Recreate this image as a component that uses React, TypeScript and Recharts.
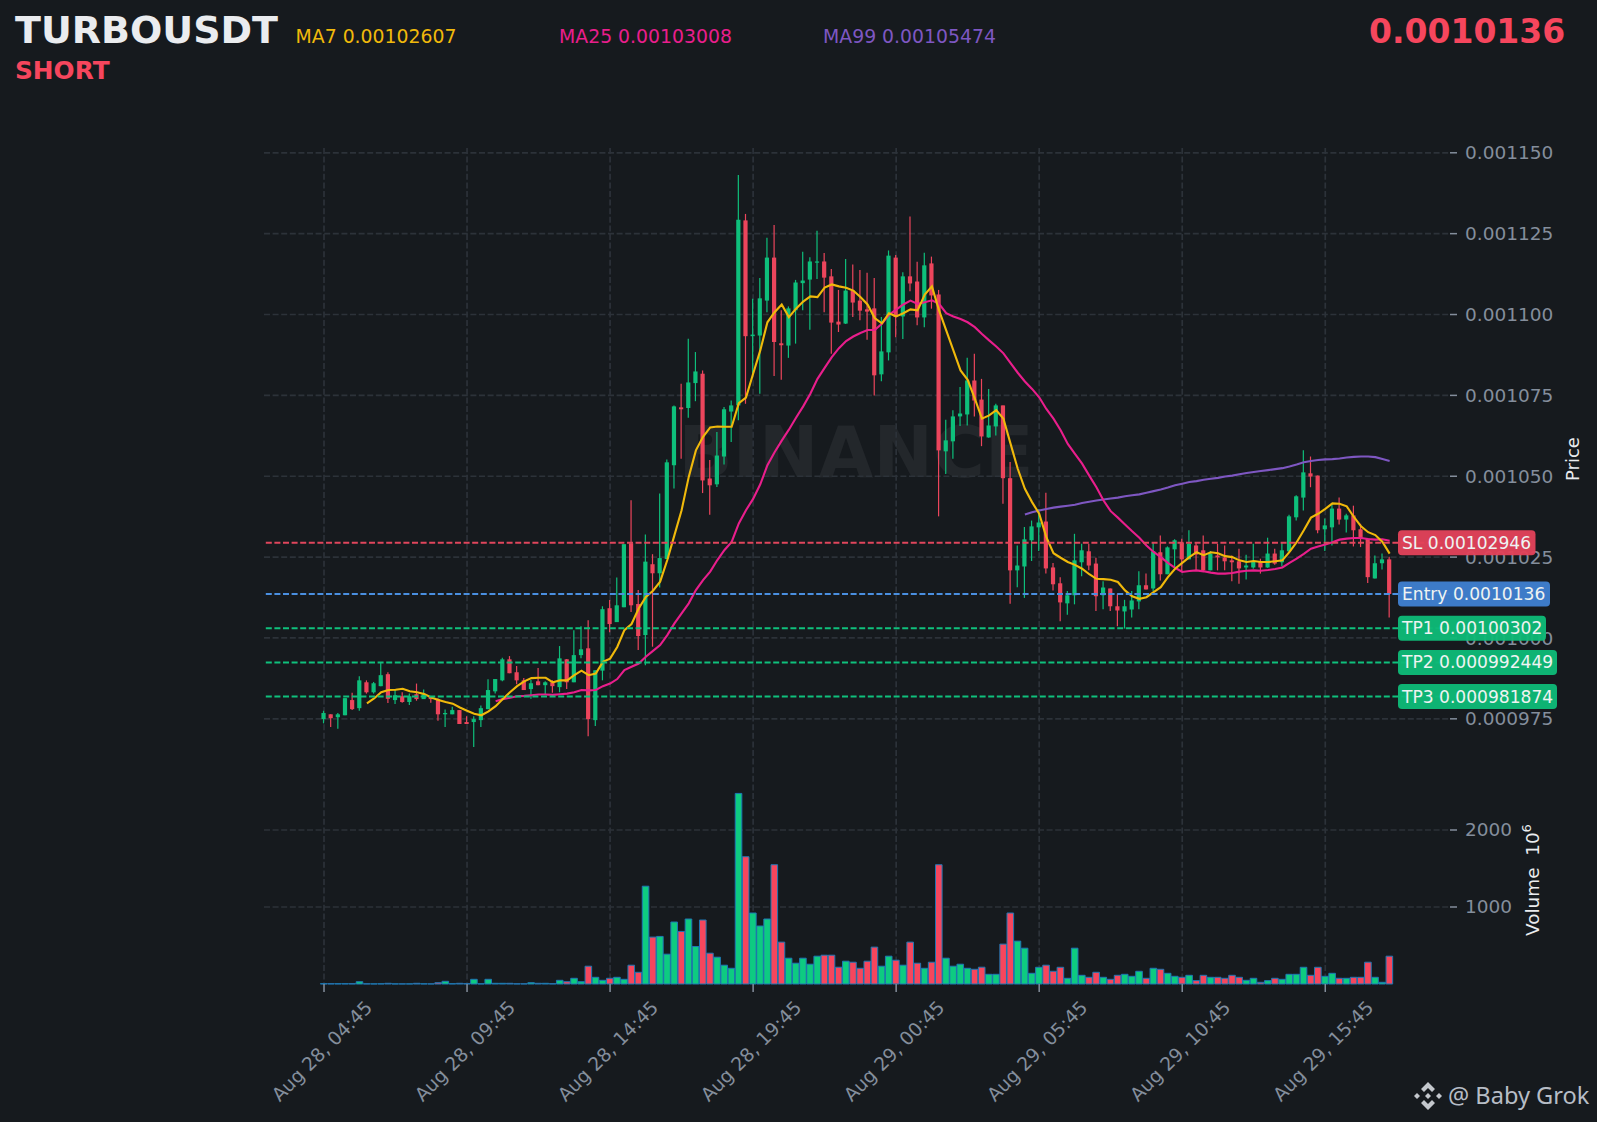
import {
  Bar,
  CartesianGrid,
  Cell,
  ComposedChart,
  Line,
  ReferenceLine,
  XAxis,
  YAxis,
} from "recharts";

// prices are kept in units of 1e-6 USDT, volume in units of 1e6
const opens = [
  974.9, 976.4, 975.5, 976.1, 980.8, 978.3, 986.3, 983.2, 985.1, 988.8,
  980.8, 982.0, 980.2, 982.6, 981.1, 982.0, 981.1, 976.4, 976.4, 977.7,
  974.0, 974.0, 974.6, 978.0, 983.5, 986.9, 993.4, 989.4, 986.9, 984.2,
  986.6, 985.4, 986.3, 984.8, 993.4, 986.3, 994.7, 996.8, 974.6, 989.9,
  1009.2, 1004.9, 1009.5, 1029.3, 1010.5, 1000.9, 1022.8, 1020.0, 1024.4, 1053.4,
  1071.3, 1071.1, 1078.8, 1081.7, 1049.3, 1047.5, 1056.1, 1070.0, 1071.9, 1129.1,
  1093.3, 1093.5, 1104.3, 1117.6, 1091.1, 1090.4, 1101.3, 1109.7, 1110.8, 1116.2,
  1116.4, 1111.8, 1097.8, 1097.2, 1107.4, 1104.3, 1101.6, 1101.9, 1081.5, 1088.3,
  1117.6, 1099.4, 1111.8, 1110.2, 1099.1, 1115.8, 1106.2, 1057.7, 1060.8, 1068.5,
  1069.1, 1079.6, 1073.7, 1062.0, 1065.4, 1071.9, 1049.4, 1020.9, 1022.1, 1030.2,
  1034.2, 1036.0, 1021.8, 1016.9, 1010.7, 1013.2, 1023.4, 1026.8, 1023.0, 1013.2,
  1015.3, 1009.8, 1008.2, 1008.8, 1011.3, 1016.3, 1015.3, 1026.5, 1019.7, 1027.4,
  1029.5, 1024.3, 1028.6, 1027.1, 1020.9, 1025.5, 1024.9, 1024.0, 1023.7, 1021.8,
  1021.8, 1023.7, 1021.8, 1026.1, 1023.4, 1026.8, 1037.3, 1043.4, 1050.9, 1050.2,
  1033.6, 1034.2, 1040.0, 1036.6, 1037.9, 1033.6, 1030.7, 1018.4, 1023.1, 1024.3,
];
const highs = [
  977.5, 976.4, 976.8, 981.4, 983.1, 988.2, 986.9, 986.4, 992.5, 989.4,
  983.9, 983.2, 982.8, 985.9, 984.1, 982.0, 981.4, 977.9, 978.7, 977.7,
  975.8, 975.8, 979.1, 987.2, 987.3, 993.9, 994.4, 991.3, 987.6, 987.0,
  990.7, 986.6, 986.9, 997.5, 993.5, 1002.4, 1003.6, 1005.5, 990.0, 1009.8,
  1011.7, 1018.7, 1029.0, 1042.6, 1014.8, 1032.0, 1025.9, 1044.7, 1055.2, 1071.9,
  1078.6, 1092.5, 1088.4, 1082.7, 1055.0, 1063.7, 1071.4, 1073.4, 1143.1, 1131.1,
  1104.9, 1111.3, 1123.7, 1127.7, 1101.3, 1102.5, 1110.7, 1119.4, 1117.7, 1125.9,
  1119.0, 1114.1, 1107.6, 1117.2, 1115.5, 1113.8, 1112.9, 1111.3, 1099.2, 1119.8,
  1118.4, 1113.1, 1130.3, 1116.3, 1119.1, 1117.9, 1107.6, 1067.5, 1070.4, 1077.6,
  1086.6, 1087.9, 1080.1, 1077.0, 1072.4, 1071.9, 1054.4, 1028.6, 1034.3, 1036.3,
  1039.9, 1044.9, 1023.2, 1018.8, 1014.5, 1032.2, 1029.1, 1029.1, 1024.8, 1017.5,
  1015.3, 1013.7, 1011.8, 1014.5, 1020.6, 1019.9, 1029.4, 1031.7, 1028.3, 1030.5,
  1030.7, 1033.3, 1029.4, 1031.7, 1026.9, 1029.1, 1028.6, 1025.5, 1027.6, 1025.7,
  1029.1, 1024.5, 1031.0, 1027.6, 1029.4, 1038.1, 1044.1, 1058.0, 1056.1, 1050.2,
  1036.9, 1041.7, 1043.4, 1038.4, 1040.9, 1035.3, 1030.7, 1025.5, 1026.1, 1025.1,
];
const lows = [
  973.6, 972.5, 971.9, 976.1, 977.7, 977.5, 982.8, 982.8, 985.1, 979.9,
  979.6, 980.0, 979.3, 980.6, 981.1, 980.0, 974.4, 972.5, 976.4, 973.4,
  973.4, 966.3, 972.5, 978.0, 982.8, 986.6, 989.1, 985.7, 983.9, 981.2,
  985.4, 982.6, 983.1, 983.2, 984.2, 986.3, 993.7, 969.6, 972.8, 986.9,
  1001.8, 1004.9, 1009.5, 1008.0, 996.3, 991.6, 997.3, 1015.6, 1024.4, 1046.2,
  1055.4, 1068.1, 1073.2, 1044.8, 1038.1, 1046.7, 1053.6, 1060.6, 1067.3, 1072.4,
  1081.7, 1075.5, 1100.7, 1081.0, 1079.8, 1086.6, 1091.0, 1101.3, 1095.3, 1111.0,
  1100.7, 1087.9, 1094.6, 1097.1, 1099.2, 1098.2, 1092.2, 1075.0, 1079.4, 1085.8,
  1093.0, 1092.4, 1107.2, 1096.7, 1096.1, 1101.8, 1037.6, 1050.7, 1055.4, 1065.5,
  1065.7, 1068.5, 1059.3, 1061.9, 1062.6, 1041.5, 1010.6, 1015.7, 1012.4, 1023.8,
  1026.9, 1019.9, 1014.7, 1005.2, 1007.2, 1010.4, 1019.1, 1020.9, 1008.3, 1008.9,
  1008.3, 1003.6, 1002.9, 1006.3, 1008.9, 1015.0, 1014.5, 1017.8, 1019.7, 1021.4,
  1020.4, 1024.3, 1020.9, 1020.4, 1020.9, 1020.9, 1020.9, 1017.5, 1016.8, 1018.1,
  1021.4, 1019.9, 1021.7, 1022.6, 1022.1, 1026.6, 1036.3, 1039.4, 1046.6, 1032.4,
  1026.9, 1028.6, 1035.1, 1032.6, 1028.3, 1028.1, 1017.0, 1018.4, 1021.2, 1006.3,
];
const closes = [
  976.8, 975.2, 976.4, 981.4, 978.0, 986.9, 983.2, 986.0, 988.5, 981.2,
  982.3, 980.2, 982.0, 981.1, 982.6, 981.1, 976.4, 976.8, 977.7, 973.4,
  973.4, 974.9, 978.3, 983.9, 987.3, 993.4, 989.1, 986.9, 983.9, 986.0,
  985.4, 986.3, 985.1, 993.7, 986.3, 994.7, 996.5, 974.9, 990.0, 1008.9,
  1004.3, 1010.1, 1029.0, 1010.1, 1000.6, 1023.6, 1020.0, 1024.7, 1054.3, 1071.6,
  1070.7, 1079.0, 1082.4, 1048.7, 1047.2, 1056.4, 1070.7, 1071.9, 1129.3, 1093.3,
  1093.8, 1105.0, 1117.6, 1091.5, 1090.5, 1101.9, 1109.9, 1110.5, 1116.4, 1116.4,
  1111.4, 1097.5, 1096.9, 1107.4, 1103.7, 1101.2, 1100.9, 1081.2, 1088.6, 1118.2,
  1099.2, 1111.8, 1109.6, 1099.1, 1115.2, 1105.9, 1058.0, 1061.1, 1068.5, 1069.4,
  1079.6, 1073.4, 1062.3, 1065.7, 1071.9, 1049.4, 1020.9, 1022.4, 1030.5, 1034.5,
  1035.7, 1021.5, 1016.6, 1011.0, 1013.2, 1024.0, 1027.1, 1022.4, 1012.9, 1015.6,
  1009.8, 1008.5, 1009.8, 1011.6, 1016.3, 1015.0, 1026.8, 1019.7, 1028.0, 1030.2,
  1024.3, 1029.1, 1025.8, 1020.9, 1026.1, 1024.9, 1023.7, 1023.4, 1021.5, 1022.4,
  1023.7, 1021.8, 1026.1, 1023.0, 1027.1, 1037.6, 1043.8, 1051.2, 1049.9, 1033.3,
  1034.8, 1040.0, 1036.6, 1037.9, 1033.3, 1030.7, 1018.8, 1023.1, 1024.3, 1013.6,
];
const volumes = [
  4, 4, 4, 4, 4, 30, 3, 2, 3, 9,
  2, 2, 2, 9, 3, 2, 17, 35, 4, 9,
  4, 61, 3, 61, 9, 9, 9, 3, 3, 17,
  9, 9, 4, 48, 30, 74, 30, 231, 87, 48,
  74, 87, 61, 244, 152, 1270, 609, 618, 387, 805,
  683, 844, 487, 831, 400, 348, 244, 204, 2475, 1653,
  922, 753, 844, 1549, 544, 335, 270, 335, 257, 361,
  374, 374, 218, 296, 283, 204, 296, 479, 231, 361,
  309, 244, 544, 270, 204, 283, 1549, 335, 231, 257,
  204, 191, 218, 126, 126, 518, 922, 557, 465, 139,
  217, 244, 165, 217, 74, 465, 113, 87, 152, 87,
  61, 113, 126, 100, 165, 74, 204, 191, 139, 100,
  87, 113, 44, 113, 87, 87, 74, 113, 87, 48,
  74, 22, 44, 74, 61, 126, 126, 217, 113, 217,
  100, 139, 74, 74, 87, 87, 283, 87, 22, 361,
];

// moving averages start at candle 6, 24 and 98
const ma7Values = [
  979.8, 981.3, 983.2, 983.9,
  984.0, 984.3, 983.5, 983.2, 982.7, 981.6, 980.8, 980.2, 979.7, 978.5,
  977.5, 976.6, 976.1, 977.3, 978.9, 981.1, 983.2, 985.1, 986.6, 987.6,
  987.7, 987.7, 986.3, 986.9, 986.9, 988.5, 989.9, 988.5, 989.0, 992.6,
  993.6, 997.2, 1002.4, 1004.3, 1009.1, 1012.7, 1014.6, 1017.4, 1024.1, 1031.8,
  1039.5, 1049.8, 1058.0, 1062.2, 1065.1, 1065.4, 1065.3, 1065.3, 1072.6, 1074.3,
  1081.7, 1088.9, 1097.6, 1100.7, 1103.1, 1099.2, 1101.8, 1104.0, 1105.6, 1105.4,
  1108.3, 1109.3, 1108.7, 1108.3, 1107.4, 1105.4, 1103.1, 1098.9, 1097.3, 1100.4,
  1099.4, 1100.4, 1101.6, 1101.3, 1106.2, 1108.7, 1101.3, 1095.1, 1088.9, 1082.7,
  1079.8, 1074.0, 1067.8, 1068.8, 1070.4, 1067.8, 1060.0, 1052.3, 1046.1, 1042.0,
  1038.4, 1031.2, 1026.2, 1024.8, 1023.5, 1022.6, 1021.4, 1019.7, 1018.3, 1018.2,
  1018.0, 1017.3, 1014.7, 1012.9, 1012.1, 1012.6, 1014.2, 1015.7, 1018.8, 1021.4,
  1023.2, 1025.0, 1026.5, 1025.6, 1026.5, 1026.2, 1025.3, 1025.0, 1024.0, 1023.5,
  1023.8, 1023.5, 1023.5, 1023.7, 1024.0, 1026.6, 1029.6, 1033.3, 1037.2, 1038.4,
  1039.9, 1041.6, 1041.5, 1040.7, 1037.4, 1034.5, 1032.7, 1031.8, 1029.7, 1026.07,
];
const ma25Values = [
  980.4, 981.1, 981.5, 982.0, 982.1, 982.3,
  982.5, 982.5, 982.4, 982.6, 982.8, 983.2, 983.9, 983.8, 983.9, 985.1,
  985.9, 987.3, 990.1, 991.1, 992.1, 994.2, 996.0, 997.8, 1000.9, 1004.5,
  1007.6, 1010.7, 1014.8, 1017.9, 1020.5, 1024.1, 1027.2, 1029.7, 1035.4, 1039.5,
  1043.0, 1047.5, 1053.4, 1057.4, 1061.0, 1064.4, 1068.1, 1071.6, 1075.5, 1080.1,
  1083.5, 1086.8, 1089.6, 1091.8, 1093.2, 1094.3, 1095.2, 1095.2, 1097.1, 1099.9,
  1101.5, 1103.1, 1104.3, 1103.3, 1103.8, 1104.4, 1103.3, 1100.4, 1099.4, 1098.6,
  1097.6, 1096.1, 1094.0, 1092.0, 1090.1, 1088.0, 1085.0, 1082.0, 1079.3, 1077.0,
  1074.4, 1070.8, 1067.8, 1064.2, 1060.0, 1056.9, 1053.9, 1050.2, 1046.6, 1042.5,
  1039.2, 1037.2, 1035.1, 1033.0, 1031.0, 1028.6, 1026.6, 1025.0, 1023.2, 1021.7,
  1020.4, 1020.7, 1020.9, 1020.6, 1020.2, 1019.9, 1019.9, 1020.1, 1020.5, 1020.8,
  1020.9, 1020.8, 1021.0, 1021.3, 1021.8, 1023.2, 1024.5, 1026.0, 1027.6, 1028.3,
  1028.9, 1029.6, 1030.4, 1030.7, 1030.9, 1030.9, 1030.6, 1030.4, 1030.5, 1030.08,
];
const ma99Values = [
  1038.2, 1038.9,
  1039.4, 1039.9, 1040.3, 1040.6, 1040.9, 1041.2, 1041.7, 1042.1, 1042.5, 1042.8,
  1043.1, 1043.4, 1043.8, 1044.1, 1044.4, 1044.9, 1045.4, 1045.9, 1046.5, 1047.2,
  1047.7, 1048.2, 1048.5, 1048.9, 1049.2, 1049.5, 1049.9, 1050.2, 1050.6, 1051.0,
  1051.3, 1051.6, 1051.9, 1052.2, 1052.5, 1053.0, 1053.6, 1054.3, 1054.7, 1055.0,
  1055.2, 1055.3, 1055.5, 1055.8, 1056.0, 1056.1, 1056.1, 1055.9, 1055.3, 1054.74,
];

const xTicks = [0, 20, 40, 60, 80, 100, 120, 140];
const xTickLabels = [
  "Aug 28, 04:45",
  "Aug 28, 09:45",
  "Aug 28, 14:45",
  "Aug 28, 19:45",
  "Aug 29, 00:45",
  "Aug 29, 05:45",
  "Aug 29, 10:45",
  "Aug 29, 15:45",
];
const priceTicks = [975, 1000, 1025, 1050, 1075, 1100, 1125, 1150];
const volumeTicks = [1000, 2000];

const levels = [
  { name: "SL", value: 1029.46, text: "SL 0.00102946", line: "#e0465c", fill: "#e2425a", w: 137.5 },
  { name: "Entry", value: 1013.6, text: "Entry 0.0010136", line: "#4a8fe0", fill: "#3f7fcf", w: 152 },
  { name: "TP1", value: 1003.02, text: "TP1 0.00100302", line: "#0fc07c", fill: "#0fb977", w: 148 },
  { name: "TP2", value: 992.449, text: "TP2 0.000992449", line: "#0fc07c", fill: "#0fb977", w: 159 },
  { name: "TP3", value: 981.874, text: "TP3 0.000981874", line: "#0fc07c", fill: "#0fb977", w: 159 },
];

const BG = "#161a1e";
const GRID = "#2c3239";
const TICK = "#848e9c";
const UP = "#0ebf7b";
const DOWN = "#ec455c";
const FONT = "'DejaVu Sans', sans-serif";
// the volume axis is stacked after the price axis, its ticks are pulled back to the plot edge
const VOLUME_AXIS_SHIFT = 146;

const rows = opens.map((open, i) => ({
  i,
  open,
  close: closes[i],
  range: [lows[i], highs[i]],
  volume: volumes[i],
  ma7: i >= 6 ? ma7Values[i - 6] : null,
  ma25: i >= 24 ? ma25Values[i - 24] : null,
  ma99: i >= 98 ? ma99Values[i - 98] : null,
}));

function Candle(props: any) {
  const { x, y, width, height, payload } = props;
  const [low, high] = payload.range;
  // pixels per price unit, taken from the bar the y scale gave us
  const k = height / (high - low);
  const top = y + (high - Math.max(payload.open, payload.close)) * k;
  const bottom = y + (high - Math.min(payload.open, payload.close)) * k;
  const color = payload.close >= payload.open ? UP : DOWN;
  const mid = x + width / 2;
  return (
    <g>
      <line x1={mid} x2={mid} y1={y} y2={y + height} stroke={color} strokeWidth={1.2} />
      <rect x={x} y={top} width={width} height={Math.max(bottom - top, 1.2)} fill={color} />
    </g>
  );
}

function DateTick(props: any) {
  const { x, y, payload } = props;
  const label = xTickLabels[xTicks.indexOf(payload.value)];
  const cx = x - 2;
  const cy = y + 57;
  return (
    <text
      x={cx}
      y={cy}
      fill={TICK}
      fontSize={18.8}
      fontFamily={FONT}
      textAnchor="middle"
      dominantBaseline="central"
      transform={`rotate(-45 ${cx} ${cy})`}
    >
      {label}
    </text>
  );
}

function VolumeTick(props: any) {
  const { x, y, payload } = props;
  const textX = x - VOLUME_AXIS_SHIFT;
  return (
    <g>
      <line x1={textX - 15} x2={textX - 8} y1={y} y2={y} stroke={TICK} strokeWidth={1.5} />
      <text
        x={textX}
        y={y}
        fill={TICK}
        fontSize={18.5}
        fontFamily={FONT}
        dominantBaseline="central"
      >
        {payload.value}
      </text>
    </g>
  );
}

function LevelLabel(props: any) {
  const { viewBox, level } = props;
  const left = viewBox.x + viewBox.width - 52;
  return (
    <g>
      <rect x={left} y={viewBox.y - 12.5} width={level.w} height={25} rx={4} fill={level.fill} fillOpacity={0.96} />
      <text
        x={left + 4}
        y={viewBox.y}
        fill="#eef3f2"
        fontSize={17.1}
        fontFamily={FONT}
        dominantBaseline="central"
      >
        {level.text}
      </text>
    </g>
  );
}

function Head({ x, y, size, color, bold, children }: any) {
  return (
    <div
      style={{
        position: "absolute",
        left: x,
        top: y - size,
        height: size * 2,
        lineHeight: `${size * 2}px`,
        fontSize: size,
        color,
        fontWeight: bold ? 700 : 400,
        whiteSpace: "nowrap",
      }}
    >
      {children}
    </div>
  );
}

function BinanceMark() {
  return (
    <svg
      width={28}
      height={28}
      viewBox="0 0 28 28"
      style={{ position: "absolute", left: 1414, top: 1082 }}
    >
      <g fill="#c4c8cd">
        <polygon points="14,0 21,7 18,10 14,6 10,10 7,7" />
        <polygon points="14,28 21,21 18,18 14,22 10,18 7,21" />
        <polygon points="14,11 17,14 14,17 11,14" />
        <polygon points="3,11 6,14 3,17 0,14" />
        <polygon points="25,11 28,14 25,17 22,14" />
      </g>
    </svg>
  );
}

export default function App() {
  return (
    <div
      style={{
        position: "relative",
        width: 1597,
        height: 1122,
        background: BG,
        overflow: "hidden",
        fontFamily: FONT,
      }}
    >
      <style>{`body{margin:0;background:${BG}}`}</style>

      <Head x={15} y={30} size={38} color="#eaecef" bold>TURBOUSDT</Head>
      <Head x={15} y={71} size={24.8} color="#f6465d" bold>SHORT</Head>
      <Head x={295.5} y={37} size={18.85} color="#f0b90b">MA7 0.00102607</Head>
      <Head x={559} y={37} size={18.85} color="#e91e8c">MA25 0.00103008</Head>
      <Head x={823} y={37} size={18.85} color="#7e57c2">MA99 0.00105474</Head>
      <Head x={1369} y={32} size={33} color="#f6465d" bold>0.0010136</Head>

      <div
        style={{
          position: "absolute",
          left: 856,
          top: 452,
          transform: "translate(-50%, -50%)",
          fontSize: 71,
          fontWeight: 700,
          color: "#23272b",
        }}
      >
        BINANCE
      </div>

      <div style={{ position: "absolute", left: 0, top: 0 }}>
        <ComposedChart
          width={1597}
          height={1122}
          data={rows}
          margin={{ top: 148, right: 0, bottom: 0, left: 264 }}
          barGap={0}
        >
          <CartesianGrid
            xAxisId="price"
            yAxisId="price"
            syncWithTicks
            horizontalValues={priceTicks}
            verticalValues={xTicks}
            stroke={GRID}
            strokeWidth={1.7}
            strokeDasharray="6 2.6"
          />
          <CartesianGrid
            xAxisId="price"
            yAxisId="volume"
            syncWithTicks
            vertical={false}
            horizontalValues={volumeTicks}
            stroke={GRID}
            strokeWidth={1.7}
            strokeDasharray="6 2.6"
          />
          <XAxis
            xAxisId="price"
            dataKey="i"
            type="number"
            domain={[-8.39, 157.44]}
            ticks={xTicks}
            interval={0}
            height={138}
            axisLine={false}
            tickLine={{ stroke: TICK, strokeWidth: 1.5 }}
            tickSize={8}
            tick={<DateTick />}
          />
          <XAxis xAxisId="volume" dataKey="i" type="number" domain={[-8.39, 157.44]} hide />
          <YAxis
            yAxisId="price"
            orientation="right"
            type="number"
            domain={[893.02, 1151.48]}
            ticks={priceTicks}
            interval={0}
            width={146}
            axisLine={false}
            tickLine={{ stroke: TICK, strokeWidth: 1.5 }}
            tickSize={7}
            tickMargin={8}
            tick={{ fill: TICK, fontSize: 18.5, fontFamily: FONT }}
            tickFormatter={(v: number) => (v / 1e6).toFixed(6)}
          />
          <YAxis
            yAxisId="volume"
            orientation="right"
            type="number"
            domain={[0, 10857]}
            ticks={volumeTicks}
            interval={0}
            width={1}
            axisLine={false}
            tickLine={false}
            tickSize={7}
            tickMargin={8}
            tick={<VolumeTick />}
          />

          <Bar
            xAxisId="volume"
            yAxisId="volume"
            dataKey="volume"
            barSize={6.6}
            stroke="#1f77b4"
            strokeWidth={1}
            isAnimationActive={false}
          >
            {rows.map((r, i) => (
              <Cell key={i} fill={r.close >= r.open ? "#0ecb81" : "#f6465d"} />
            ))}
          </Bar>
          <Bar
            xAxisId="price"
            yAxisId="price"
            dataKey="range"
            barSize={4.2}
            shape={<Candle />}
            isAnimationActive={false}
          />
          <Line xAxisId="price" yAxisId="price" dataKey="ma99" stroke="#7e57c2" strokeWidth={2.1} dot={false} isAnimationActive={false} />
          <Line xAxisId="price" yAxisId="price" dataKey="ma25" stroke="#e91e8c" strokeWidth={2.1} dot={false} isAnimationActive={false} />
          <Line xAxisId="price" yAxisId="price" dataKey="ma7" stroke="#f0b90b" strokeWidth={2.1} dot={false} isAnimationActive={false} />

          {levels.map((l) => (
            <ReferenceLine
              key={l.name}
              xAxisId="price"
              yAxisId="price"
              y={l.value}
              stroke={l.line}
              strokeWidth={2}
              strokeDasharray="6 2.6"
              zIndex={2000}
              label={<LevelLabel level={l} />}
            />
          ))}
        </ComposedChart>
      </div>

      <div
        style={{
          position: "absolute",
          left: 1572,
          top: 459,
          transform: "translate(-50%, -50%) rotate(-90deg)",
          fontSize: 18,
          color: "#eaecef",
        }}
      >
        Price
      </div>
      <div
        style={{
          position: "absolute",
          left: 1532,
          top: 880,
          transform: "translate(-50%, -50%) rotate(-90deg)",
          fontSize: 18.4,
          color: "#eaecef",
          whiteSpace: "nowrap",
        }}
      >
        Volume&nbsp;&nbsp;10<sup style={{ fontSize: 13, lineHeight: 0 }}>6</sup>
      </div>

      <BinanceMark />
      <div
        style={{
          position: "absolute",
          left: 1448,
          top: 1078,
          height: 34,
          lineHeight: "34px",
          fontFamily: "'Noto Sans', sans-serif",
          fontSize: 23.6,
          color: "#b7bdc6",
          whiteSpace: "nowrap",
        }}
      >
        @ Baby Grok
      </div>
    </div>
  );
}
